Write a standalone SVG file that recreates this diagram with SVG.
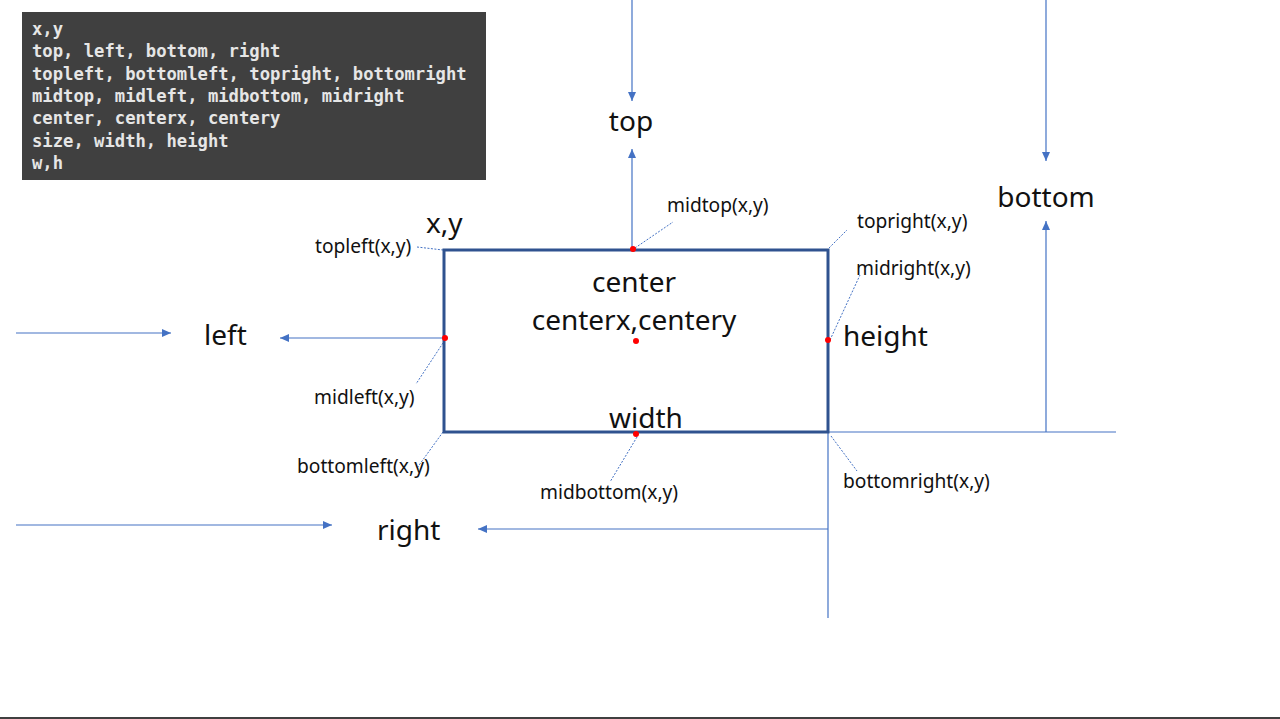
<svg xmlns="http://www.w3.org/2000/svg" width="1280" height="719" viewBox="0 0 1280 719">
<defs>
<style>
.code{font-family:"DejaVu Sans Mono","Liberation Mono",monospace;font-weight:bold;font-size:17.2px;fill:#e6e6e6}
.big{font-family:"Noto Sans","Liberation Sans",sans-serif;font-size:28px;fill:#111}
.small{font-family:"Noto Sans","Liberation Sans",sans-serif;font-size:19.2px;fill:#111}
.ln{stroke:#4472c4;stroke-width:1.2;fill:none}
.arr{marker-end:url(#ah)}
.lead{stroke:#4472c4;stroke-width:1;stroke-dasharray:2,1.5;fill:none}
.dot{fill:#ff0000}
</style>
<marker id="ah" markerUnits="userSpaceOnUse" markerWidth="10" markerHeight="8" refX="9" refY="4" orient="auto">
<path d="M0,0 L9,4 L0,8 Z" fill="#4472c4"/>
</marker>
</defs>
<rect width="1280" height="719" fill="#ffffff"/>
<g id="legend">
<rect x="22" y="12" width="464" height="168" fill="#404040"/>
<text class="code" x="32" y="35">x,y</text>
<text class="code" x="32" y="57">top, left, bottom, right</text>
<text class="code" x="32" y="80">topleft, bottomleft, topright, bottomright</text>
<text class="code" x="32" y="102">midtop, midleft, midbottom, midright</text>
<text class="code" x="32" y="124">center, centerx, centery</text>
<text class="code" x="32" y="147">size, width, height</text>
<text class="code" x="32" y="169">w,h</text>
</g>
<g id="connectors">
<line class="ln arr" x1="632" y1="0" x2="632" y2="101"/>
<line class="ln arr" x1="632" y1="249" x2="632" y2="149"/>
<line class="ln arr" x1="1046" y1="0" x2="1046" y2="161"/>
<line class="ln arr" x1="1046" y1="432" x2="1046" y2="221"/>
<line class="ln" x1="828" y1="432" x2="1116" y2="432"/>
<line class="ln arr" x1="16" y1="333" x2="171" y2="333"/>
<line class="ln arr" x1="445" y1="338" x2="280" y2="338"/>
<line class="ln arr" x1="16" y1="525" x2="332" y2="525"/>
<line class="ln arr" x1="828" y1="529" x2="478" y2="529"/>
<line class="ln" x1="828" y1="432" x2="828" y2="618"/>
<line class="lead" x1="417" y1="247" x2="443" y2="250"/>
<line class="lead" x1="635" y1="248" x2="673" y2="222"/>
<line class="lead" x1="829" y1="248" x2="847" y2="230"/>
<line class="lead" x1="830" y1="340" x2="860" y2="275"/>
<line class="lead" x1="445" y1="340" x2="416" y2="384"/>
<line class="lead" x1="443" y1="432" x2="417" y2="468"/>
<line class="lead" x1="637" y1="437" x2="610" y2="482"/>
<line class="lead" x1="831" y1="436" x2="857" y2="471"/>
</g>
<g id="rect">
<rect x="444" y="250" width="384" height="182" fill="none" stroke="#2f528f" stroke-width="3"/>
</g>
<g id="points">
<circle class="dot" cx="633" cy="249" r="3"/>
<circle class="dot" cx="445" cy="338" r="3"/>
<circle class="dot" cx="636" cy="341" r="3"/>
<circle class="dot" cx="828" cy="340" r="3"/>
<circle class="dot" cx="636" cy="434" r="3"/>
</g>
<g id="labels">
<text class="big" x="631" y="131" text-anchor="middle">top</text>
<text class="big" x="1046" y="207" text-anchor="middle">bottom</text>
<text class="big" x="204" y="345">left</text>
<text class="big" x="377" y="540">right</text>
<text class="big" x="426" y="233">x,y</text>
<text class="big" x="634" y="292" text-anchor="middle">center</text>
<text class="big" x="634" y="330" text-anchor="middle">centerx,centery</text>
<text class="big" x="646" y="428" text-anchor="middle">width</text>
<text class="big" x="843" y="346">height</text>
<text class="small" x="315" y="253">topleft(x,y)</text>
<text class="small" x="667" y="212">midtop(x,y)</text>
<text class="small" x="857" y="228">topright(x,y)</text>
<text class="small" x="856" y="275">midright(x,y)</text>
<text class="small" x="314" y="404">midleft(x,y)</text>
<text class="small" x="297" y="473">bottomleft(x,y)</text>
<text class="small" x="540" y="499">midbottom(x,y)</text>
<text class="small" x="843" y="488">bottomright(x,y)</text>
</g>
<line x1="0" y1="718" x2="1280" y2="718" stroke="#000" stroke-width="1.5"/>
</svg>
